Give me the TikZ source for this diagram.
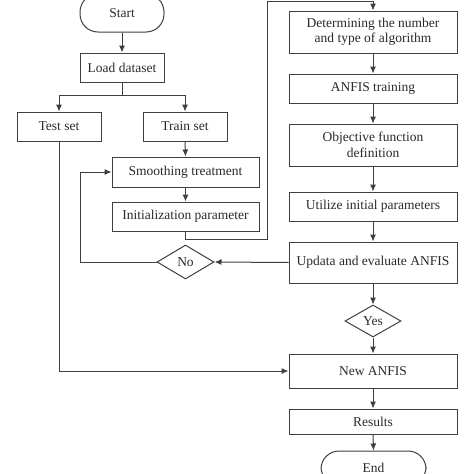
\documentclass[tikz,border=0pt]{standalone}
\usepackage{fontspec}
\setmainfont{Liberation Serif}
\usetikzlibrary{shapes.geometric,arrows.meta}
\definecolor{ln}{HTML}{3F3F3F}
\definecolor{tx}{HTML}{2A2A2A}
\tikzset{
  box/.style={draw=ln, line width=1pt, fill=white, text=tx, inner sep=0pt, align=center, font=\fontsize{13.5}{15.5}\selectfont},
  term/.style={box, rounded corners=18pt},
  dec/.style={draw=ln, line width=1pt, fill=white, text=tx, diamond, inner sep=0pt, aspect=1.7, font=\fontsize{13.5}{15.5}\selectfont},
  arr/.style={draw=ln, line width=1pt, -{Latex[length=7pt,width=6pt]}},
  ln/.style={draw=ln, line width=1pt}
}
\begin{document}
\begin{tikzpicture}[x=1pt,y=-1pt]
\useasboundingbox (0,0) rectangle (474,474);
\clip (0,0) rectangle (474,474);
\fill[white] (0,0) rectangle (474,474);
% left column
\node[term, minimum width=84pt, minimum height=38pt] (start) at (122,13) {Start};
\node[box, minimum width=84pt, minimum height=29pt] (load) at (122,67.5) {Load dataset};
\node[box, minimum width=84pt, minimum height=29pt] (test) at (59,126.5) {Test set};
\node[box, minimum width=84pt, minimum height=29pt] (train) at (185,126.5) {Train set};
\node[box, minimum width=147pt, minimum height=30pt] (smooth) at (185.5,172) {Smoothing treatment};
\node[box, minimum width=147pt, minimum height=29pt] (init) at (185.5,216.5) {Initialization parameter};
\node[dec, minimum width=57pt, minimum height=34pt] (no) at (185.5,262) {No};
% right column
\node[box, minimum width=168pt, minimum height=42pt] (det) at (373,32) {Determining the number\\and type of algorithm};
\node[box, minimum width=168pt, minimum height=29pt] (anfis) at (373,88.5) {ANFIS training};
\node[box, minimum width=168pt, minimum height=42pt] (obj) at (373,145) {Objective function\\definition};
\node[box, minimum width=168pt, minimum height=29pt] (util) at (373,206.5) {Utilize initial parameters};
\node[box, minimum width=168pt, minimum height=41pt] (upd) at (373,262.5) {Updata and evaluate ANFIS};
\node[dec, minimum width=56pt, minimum height=32pt] (yes) at (373,321) {Yes};
\node[box, minimum width=168pt, minimum height=34pt] (new) at (373,371) {New ANFIS};
\node[box, minimum width=168pt, minimum height=25pt] (res) at (373,421.5) {Results};
\node[term, minimum width=105pt, minimum height=34pt] (end) at (373.5,468) {End};
% coordinates
\coordinate (split) at (122,95);
\coordinate (loopR) at (267,239);
\coordinate (loopT) at (267,1);
\coordinate (noL) at (80,262);
% connectors
\draw[arr] (start.south) -- (load.north);
\draw[ln] (load.south) -- (split);
\draw[arr] (split) -| (test.north);
\draw[arr] (split) -| (train.north);
\draw[arr] (train.south) -- (smooth.north);
\draw[arr] (smooth.south) -- (init.north);
\draw[arr] (init.south) |- (loopR) -- (loopT) -| (det.north);
\draw[arr] (det.south) -- (anfis.north);
\draw[arr] (anfis.south) -- (obj.north);
\draw[arr] (obj.south) -- (util.north);
\draw[arr] (util.south) -- (upd.north);
\draw[arr] (upd.south) -- (yes.north);
\draw[arr] (yes.south) -- (new.north);
\draw[arr] (new.south) -- (res.north);
\draw[arr] (res.south) -- (end.north);
\draw[arr] (upd.west) -- (no.east);
\draw[arr] (no.west) -- (noL) |- (smooth.west);
\draw[arr] (test.south) |- (new.west);
\end{tikzpicture}
\end{document}
